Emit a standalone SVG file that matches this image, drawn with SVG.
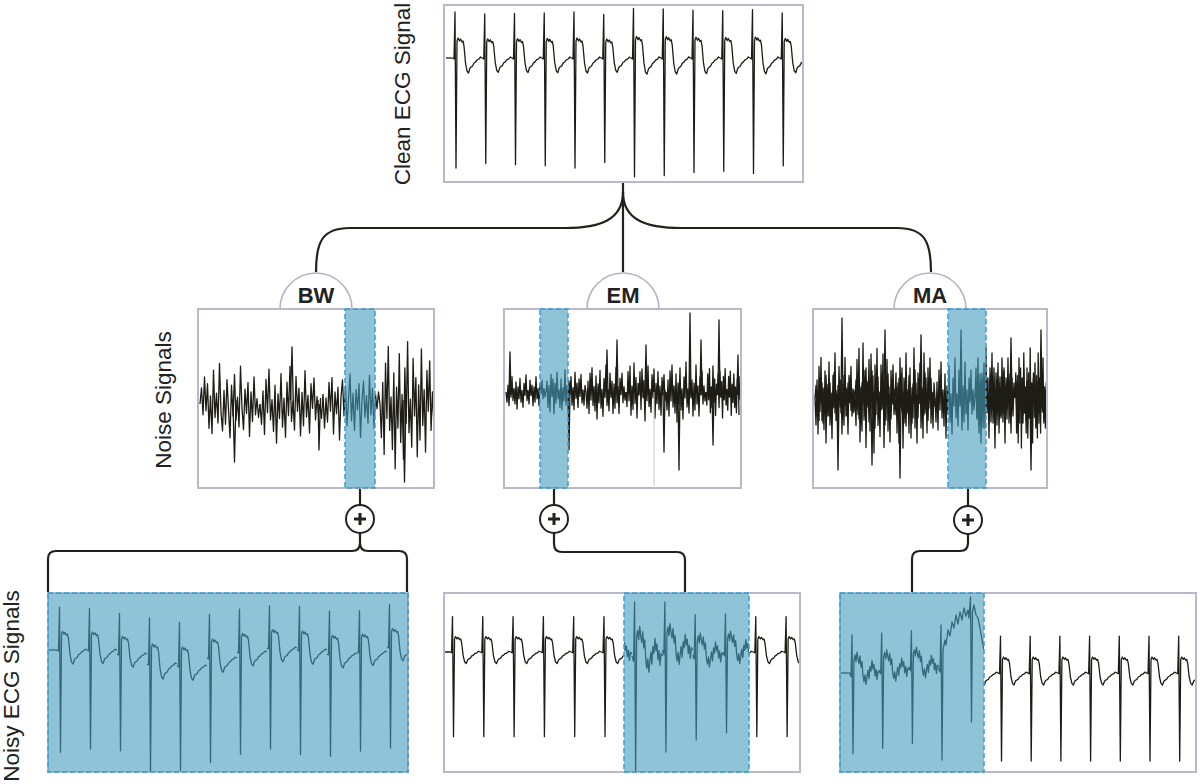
<svg xmlns="http://www.w3.org/2000/svg" xmlns:xlink="http://www.w3.org/1999/xlink" width="1200" height="784" viewBox="0 0 1200 784">
<style>
.sig{fill:none;stroke:#1d1d15;stroke-width:1.3;stroke-linejoin:round}
.box{fill:#fff;stroke:#b9b9cc;stroke-width:2}
.band{fill:#449dbe;fill-opacity:0.6;stroke:#3a9fcc;stroke-width:1.5;stroke-dasharray:5 3}
.conn{fill:none;stroke:#22221a;stroke-width:2.2}
.cap{fill:#fff;stroke:#b3b3c7;stroke-width:1.6}
.sum{fill:#fff;stroke:#22221a;stroke-width:2}
.plus{stroke:#22221a;stroke-width:3}
.lbl{font-family:"Liberation Sans",Arial,sans-serif;font-size:22.5px;fill:#222}
.tag{font-family:"Liberation Sans",Arial,sans-serif;font-size:22px;font-weight:bold;fill:#222;text-anchor:middle}
</style>
<defs>
<path id="beat" class="sig" vector-effect="non-scaling-stroke" d="M-2.5,0 L-1,1 L0,-46 L1,110 L2,-17 L3,-20 L4.5,-17 L5.5,-19 L7,-16 L8,-17 L9,-12 L10.5,5 L12,13 L13.5,15 L15,10 L16,9 L17.5,8 L19,5 L20.5,4 L22,2 L24,1 L25.5,-1 L27.3,0"/>
<path id="beatN" class="sig" vector-effect="non-scaling-stroke" d="M-2.5,0 L-1,4 L0,-40 L1,85 L2,-14 L3,-19 L4,-12 L5,-22 L6,-15 L7,-10 L8,-18 L9,-6 L10,-12 L11,3 L12,9 L13,2 L14,12 L15,4 L16,-3 L17,6 L18,-7 L19,-2 L20,-13 L21,-4 L22,-9 L23,3 L24,-4 L25,7 L26,-2 L27.3,0"/>
<path id="nzA" class="sig" vector-effect="non-scaling-stroke" d="M0,0 L1.5,-12 L3,8 L4.5,-20 L6,5 L7.5,-15 L9,18 L10.5,-6 L12,22 L13.5,-25 L15,10 L16.5,-8 L18,14 L19.5,-30 L21,6 L22.5,20 L24,-10 L25.5,15 L27,-18 L28.5,4 L30,25 L31.5,-14 L33,9 L34.5,-22 L36,12 L37.5,-5 L39,17 L40.5,-28 L42,3 L43.5,19 L45,-11 L46.5,7 L48,-16 L49.5,24 L51,-9 L52.5,13 L54,-20 L55.5,8 L57,-4 L58.5,10 L60,0"/>
<path id="nzB" class="sig" vector-effect="non-scaling-stroke" d="M0,0 L1.5,14 L3,-9 L4.5,21 L6,-17 L7.5,6 L9,-24 L10.5,11 L12,-3 L13.5,19 L15,-13 L16.5,27 L18,-7 L19.5,10 L21,-21 L22.5,16 L24,-4 L25.5,23 L27,-15 L28.5,8 L30,-26 L31.5,12 L33,-2 L34.5,18 L36,-19 L37.5,5 L39,-11 L40.5,22 L42,-8 L43.5,15 L45,-23 L46.5,9 L48,-6 L49.5,20 L51,-14 L52.5,3 L54,-18 L55.5,11 L57,-5 L58.5,7 L60,0"/>
<path id="nzD" class="sig" vector-effect="non-scaling-stroke" d="M0,0 L1,6 L2,-4 L3,8 L4,-7 L5,3 L6,-9 L7,5 L8,-2 L9,7 L10,-6 L11,10 L12,-3 L13,4 L14,-8 L15,6 L16,-1 L17,9 L18,-5 L19,2 L20,-10 L21,5 L22,-1 L23,7 L24,-7 L25,2 L26,-4 L27,8 L28,-3 L29,6 L30,-9 L31,4 L32,-2 L33,8 L34,-5 L35,1 L36,-7 L37,4 L38,-2 L39,3 L40,0"/>
<path id="nzE" class="sig" vector-effect="non-scaling-stroke" d="M0,0 L1,-5 L2,7 L3,-3 L4,9 L5,-8 L6,2 L7,-6 L8,10 L9,-4 L10,5 L11,-9 L12,3 L13,-1 L14,7 L15,-6 L16,8 L17,-2 L18,4 L19,-10 L20,6 L21,-3 L22,9 L23,-5 L24,1 L25,-7 L26,6 L27,-2 L28,8 L29,-9 L30,3 L31,-4 L32,7 L33,-6 L34,2 L35,-8 L36,5 L37,-1 L38,6 L39,-3 L40,0"/>
<clipPath id="cClean"><rect x="445" y="6" width="357" height="175"/></clipPath>
<clipPath id="cBW"><rect x="199" y="310" width="234" height="177"/></clipPath>
<clipPath id="cEM"><rect x="505" y="310" width="235" height="177"/></clipPath>
<clipPath id="cMA"><rect x="814" y="310" width="232" height="177"/></clipPath>
<clipPath id="cNL"><rect x="49" y="594" width="358" height="177"/></clipPath>
<clipPath id="cNMclean"><rect x="445" y="594" width="179" height="177"/><rect x="749" y="594" width="50" height="177"/></clipPath>
<clipPath id="cNMnoisy"><rect x="624" y="594" width="125" height="177"/></clipPath>
<clipPath id="cNRclean"><rect x="984" y="594" width="211" height="177"/></clipPath>
<clipPath id="cNRnoisy"><rect x="841" y="594" width="143" height="177"/></clipPath>
</defs>

<g id="connectors">
<path class="conn" d="M623,182 L623,272"/>
<path class="conn" d="M623,192 C623,220 600,228 565,228 L350,228 C322,228 316,242 316,272"/>
<path class="conn" d="M623,192 C623,220 646,228 681,228 L897,228 C925,228 931,242 931,272"/>
<path class="conn" d="M360,488 L360,505"/>
<path class="conn" d="M360,533 L360,543 Q360,551 352,551 L56,551 Q48,551 48,559 L48,593"/>
<path class="conn" d="M360,543 Q360,551 368,551 L399,551 Q407,551 407,559 L407,593"/>
<path class="conn" d="M554,488 L554,505"/>
<path class="conn" d="M554,533 L554,544 Q554,552 562,552 L677,552 Q685,552 685,560 L685,594"/>
<path class="conn" d="M968,488 L968,506"/>
<path class="conn" d="M968,534 L968,543 Q968,551 960,551 L920,551 Q912,551 912,559 L912,593"/>
</g>

<g id="node-clean">
<rect class="box" x="444" y="5" width="359" height="177"/>
<g clip-path="url(#cClean)">
<path class="sig" d="M446,58 L452.5,58"/>
<use href="#beat" transform="translate(455,58)"/>
<use href="#beat" transform="translate(484.75,58) scale(1,0.96)"/>
<use href="#beat" transform="translate(514.5,58) scale(1,0.97)"/>
<use href="#beat" transform="translate(544.25,58) scale(1,0.98)"/>
<use href="#beat" transform="translate(574,58)"/>
<use href="#beat" transform="translate(603.75,58) scale(1,0.95)"/>
<use href="#beat" transform="translate(633.5,58) scale(1,1.08)"/>
<use href="#beat" transform="translate(663.25,58) scale(1,1.07)"/>
<use href="#beat" transform="translate(693,58) scale(1,1.04)"/>
<use href="#beat" transform="translate(722.75,58) scale(1,1.03)"/>
<use href="#beat" transform="translate(752.5,58) scale(1,1.05)"/>
<use href="#beat" transform="translate(782.25,58) scale(1,0.98)"/>
</g>
<text class="lbl" text-anchor="middle" transform="translate(410,94) rotate(-90)">Clean ECG Signal</text>
</g>

<g id="node-bw">
<path class="cap" d="M280,309 A36,36 0 0 1 352,309"/>
<text class="tag" x="316" y="303">BW</text>
<rect class="box" x="198" y="309" width="236" height="179"/>
<g clip-path="url(#cBW)">
<use href="#nzA" transform="translate(200,404) scale(1,1.35)"/>
<use href="#nzB" transform="translate(260,404) scale(1,1.45)"/>
<use href="#nzA" transform="translate(320,404) scale(1,-1.2)"/>
<use href="#nzB" transform="translate(380,404) scale(0.92,2.4)"/>
<path class="sig" d="M290.5,400 L292,347 L293.5,412"/>
<path class="sig" d="M233,405 L234.5,462 L236,400"/>
<path class="sig" d="M318,400 L319,450 L320.5,398"/>
<path class="sig" d="M403,400 L404.5,482 L406,398"/>
</g>
<rect class="band" x="345" y="309" width="30" height="179"/>
<text class="lbl" text-anchor="middle" transform="translate(171,400) rotate(-90)">Noise Signals</text>
</g>

<g id="node-em">
<path class="cap" d="M587,309 A36,36 0 0 1 659,309"/>
<text class="tag" x="623" y="303">EM</text>
<rect class="box" x="504" y="309" width="237" height="179"/>
<g clip-path="url(#cEM)">
<use href="#nzD" transform="translate(506,392) scale(1,1.7)"/>
<use href="#nzE" transform="translate(546,392) scale(1,2.2)"/>
<use href="#nzD" transform="translate(586,392) scale(1,2.7)"/>
<use href="#nzE" transform="translate(626,392) scale(1,-2.9)"/>
<use href="#nzD" transform="translate(666,392) scale(1,3)"/>
<use href="#nzE" transform="translate(706,392) scale(0.87,-2.6)"/>
<path class="sig" d="M509,392 L510,352 L511,395"/>
<path class="sig" d="M568,392 L569,450 L570,390"/>
<path class="sig" d="M616,392 L617,340 L618,394"/>
<path class="sig" d="M606,392 L607,350 L608,395"/>
<path class="sig" d="M645,392 L646,345 L647,395"/>
<path class="sig" d="M663,392 L664,452 L665,390"/>
<path d="M654,392 L654,486" fill="none" stroke="#c8c8c8" stroke-width="1"/>
<path class="sig" d="M689,392 L690,313 L691,395"/>
<path class="sig" d="M678,392 L679,470 L680,390"/>
<path class="sig" d="M700,392 L701,340 L702,395"/>
<path class="sig" d="M718,392 L719,320 L720,395"/>
<path class="sig" d="M712,392 L713,445 L714,390"/>
<path class="sig" d="M737,392 L738,355 L739,415"/>
</g>
<rect class="band" x="540" y="309" width="28" height="179"/>
</g>

<g id="node-ma">
<path class="cap" d="M894,309 A36,36 0 0 1 966,309"/>
<text class="tag" x="930" y="303">MA</text>
<rect class="box" x="813" y="309" width="234" height="179"/>
<g clip-path="url(#cMA)">
<use href="#nzD" transform="translate(815,398) scale(1,4.5)"/>
<use href="#nzE" transform="translate(855,398) scale(1,-5.5)"/>
<use href="#nzE" transform="translate(895,398) scale(1,5)"/>
<use href="#nzD" transform="translate(935,398) scale(1,4)"/>
<use href="#nzD" transform="translate(975,398) scale(1,-5)"/>
<use href="#nzE" transform="translate(1015,398) scale(0.8,5)"/>
<use href="#nzE" transform="translate(815,398) scale(1,2.5)"/>
<use href="#nzD" transform="translate(855,398) scale(1,-3)"/>
<use href="#nzD" transform="translate(895,398) scale(1,2.8)"/>
<use href="#nzE" transform="translate(975,398) scale(1,3)"/>
<use href="#nzD" transform="translate(1015,398) scale(0.8,-2.8)"/>
<path class="sig" d="M841,398 L842,318 L843,400"/>
<path class="sig" d="M837,398 L838,470 L839,398"/>
<path class="sig" d="M884,398 L885,330 L886,400"/>
<path class="sig" d="M899,398 L900,478 L901,398"/>
<path class="sig" d="M871,398 L872,465 L873,398"/>
<path class="sig" d="M920,398 L921,335 L922,398"/>
<path class="sig" d="M960,398 L961,330 L962,398"/>
<path class="sig" d="M1010,398 L1011,338 L1012,398"/>
<path class="sig" d="M1030,398 L1031,470 L1032,398"/>
<path class="sig" d="M1040,398 L1041,330 L1042,398"/>
</g>
<rect class="band" x="948" y="309" width="38" height="179"/>
</g>

<g id="sum-bw"><circle class="sum" cx="360" cy="519" r="14"/><path class="plus" d="M354,519 H366 M360,513 V525"/></g>
<g id="sum-em"><circle class="sum" cx="554" cy="519" r="14"/><path class="plus" d="M548,519 H560 M554,513 V525"/></g>
<g id="sum-ma"><circle class="sum" cx="968" cy="520" r="14"/><path class="plus" d="M962,520 H974 M968,514 V526"/></g>

<g id="node-noisy-bw">
<rect class="box" x="48" y="593" width="360" height="179"/>
<g clip-path="url(#cNL)">
<path class="sig" d="M49,650 L57,650"/>
<use href="#beat" transform="translate(59.5,650) scale(1.007,0.93)"/>
<use href="#beat" transform="translate(89.5,650) scale(1.007,0.9)"/>
<use href="#beat" transform="translate(119.5,654) scale(1.007,0.88)"/>
<use href="#beat" transform="translate(149.5,664) scale(1.007,1.0)"/>
<use href="#beat" transform="translate(179.5,666) scale(1.007,0.95)"/>
<use href="#beat" transform="translate(209.5,658) scale(1.007,0.95)"/>
<use href="#beat" transform="translate(239.5,652) scale(1.007,0.93)"/>
<use href="#beat" transform="translate(269.5,648) scale(1.007,0.92)"/>
<use href="#beat" transform="translate(299.5,650) scale(1.007,0.95)"/>
<use href="#beat" transform="translate(329.5,654) scale(1.007,0.93)"/>
<use href="#beat" transform="translate(359.5,652) scale(1.007,0.9)"/>
<use href="#beat" transform="translate(389.5,647) scale(1.007,0.92)"/>
</g>
<rect class="band" x="48" y="593" width="360" height="179"/>
<text class="lbl" text-anchor="middle" transform="translate(19,686) rotate(-90)">Noisy ECG Signals</text>
</g>

<g id="node-noisy-em">
<rect class="box" x="444" y="593" width="356" height="179"/>
<g clip-path="url(#cNMclean)">
<path class="sig" d="M445,652 L450,652"/>
<use href="#beat" transform="translate(452.5,652) scale(1.017,0.77)"/>
<use href="#beat" transform="translate(482.8,652) scale(1.017,0.77)"/>
<use href="#beat" transform="translate(513.1,652) scale(1.017,0.77)"/>
<use href="#beat" transform="translate(543.4,652) scale(1.017,0.77)"/>
<use href="#beat" transform="translate(573.7,652) scale(1.017,0.77)"/>
<use href="#beat" transform="translate(604,652) scale(1.017,0.77)"/>
<use href="#beat" transform="translate(725.5,652) scale(1.017,0.77)"/>
<use href="#beat" transform="translate(755.8,652) scale(1.017,0.77)"/>
<use href="#beat" transform="translate(786.1,652) scale(1.017,0.77)"/>
</g>
<g clip-path="url(#cNMnoisy)">
<use href="#beatN" transform="translate(604,654) scale(1.017,0.9)"/>
<use href="#beatN" transform="translate(634.6,656) scale(1.017,1.35)"/>
<use href="#beatN" transform="translate(664.9,650) scale(1.017,1.2)"/>
<use href="#beatN" transform="translate(695.2,655) scale(1.017,1.0)"/>
<use href="#beatN" transform="translate(725.5,652) scale(1.017,0.95)"/>
</g>
<rect class="band" x="624" y="593" width="125" height="179"/>
</g>

<g id="node-noisy-ma">
<rect class="box" x="840" y="593" width="356" height="179"/>
<g clip-path="url(#cNRclean)">
<use href="#beat" transform="translate(970.8,673) scale(1,0.8)"/>
<use href="#beat" transform="translate(1000.5,673) scale(1,0.8)"/>
<use href="#beat" transform="translate(1030.2,673) scale(1,0.8)"/>
<use href="#beat" transform="translate(1059.9,673) scale(1,0.8)"/>
<use href="#beat" transform="translate(1089.6,673) scale(1,0.8)"/>
<use href="#beat" transform="translate(1119.3,673) scale(1,0.8)"/>
<use href="#beat" transform="translate(1149,673) scale(1,0.8)"/>
<use href="#beat" transform="translate(1178.7,673) scale(1,0.8)"/>
</g>
<g clip-path="url(#cNRnoisy)">
<path class="sig" d="M841,673 L849.5,673"/>
<use href="#beatN" transform="translate(852,673) scale(1,0.95)"/>
<use href="#beatN" transform="translate(881.7,670) scale(1,0.92)"/>
<use href="#beatN" transform="translate(911.4,667) scale(1,0.9)"/>
<path class="sig" stroke-width="2" d="M938.5,668 L940,672 L941,625 L942,760 L943,650 L945,640 L946,645 L948,630 L950,636 L952,622 L954,628 L956,615 L958,624 L960,612 L962,620 L964,608 L966,616 L968,610 L969,618 L970.5,597 L971.5,722 L972.5,612 L974,605 L976,615 L978,618 L980,628 L982,640 L984,650"/>
</g>
<rect class="band" x="840" y="593" width="144" height="179"/>
</g>
</svg>
